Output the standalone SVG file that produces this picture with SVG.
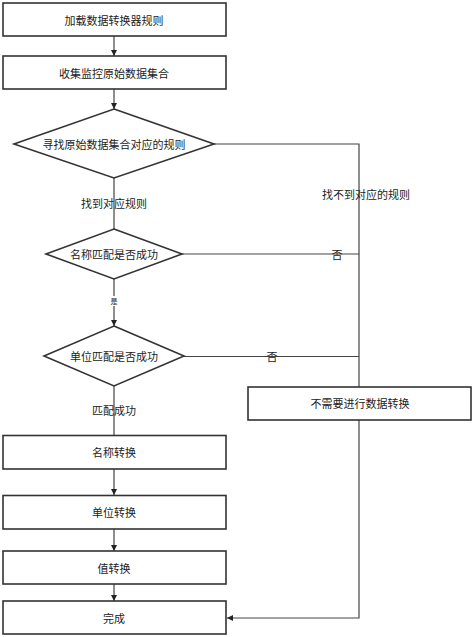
<svg xmlns="http://www.w3.org/2000/svg" width="474" height="637" viewBox="0 0 474 637">
<style>
.n{fill:#fff;stroke:#333;stroke-width:1.6}
.c{fill:none;stroke:#444;stroke-width:1.2}
.t{font-family:"Noto Sans CJK SC","Noto Sans",sans-serif;font-size:11px;fill:#222;text-anchor:middle;dominant-baseline:central}
.s{font-size:7px}
</style>
<defs>
<marker id="a" viewBox="0 0 8 8" refX="8" refY="4" markerWidth="6" markerHeight="6" orient="auto" markerUnits="userSpaceOnUse">
<path d="M0,0 L8,4 L0,8 z" fill="#222"/>
</marker>
</defs>
<rect width="474" height="637" fill="#fff"/>
<g id="connectors">
<line class="c" x1="114" y1="36" x2="114" y2="56" marker-end="url(#a)"/>
<line class="c" x1="114" y1="89" x2="114" y2="109" marker-end="url(#a)"/>
<line class="c" x1="114" y1="178" x2="114" y2="229"/>
<line class="c" x1="114" y1="279" x2="114" y2="326" marker-end="url(#a)"/>
<line class="c" x1="114" y1="386" x2="114" y2="435"/>
<line class="c" x1="114" y1="469" x2="114" y2="495" marker-end="url(#a)"/>
<line class="c" x1="114" y1="529" x2="114" y2="551" marker-end="url(#a)"/>
<line class="c" x1="114" y1="584" x2="114" y2="601" marker-end="url(#a)"/>
<polyline class="c" points="214,144 359,144 359,618 227,618" marker-end="url(#a)"/>
<line class="c" x1="182" y1="254" x2="359" y2="254"/>
<line class="c" x1="184" y1="356.5" x2="359" y2="356.5"/>
<text class="t" x="114" y="203">找到对应规则</text>
<text class="t" x="366" y="194">找不到对应的规则</text>
<text class="t" x="337" y="254">否</text>
<rect x="110" y="296" width="8" height="10" fill="#fff"/>
<text class="t s" x="114" y="301">是</text>
<text class="t" x="272" y="356">否</text>
<text class="t" x="114" y="410">匹配成功</text>
</g>
<g id="n1"><rect class="n" x="3" y="3" width="223" height="33"/><text class="t" x="114" y="19.5">加载数据转换器规则</text></g>
<g id="n2"><rect class="n" x="3" y="56" width="223" height="33"/><text class="t" x="114" y="72.5">收集监控原始数据集合</text></g>
<g id="d1"><polygon class="n" points="114,109 214,144 114,178 14,144"/><text class="t" x="114" y="144">寻找原始数据集合对应的规则</text></g>
<g id="d2"><polygon class="n" points="114,229 182,254 114,279 46,254"/><text class="t" x="114" y="254">名称匹配是否成功</text></g>
<g id="d3"><polygon class="n" points="114,326 184,356 114,386 44,356"/><text class="t" x="114" y="356">单位匹配是否成功</text></g>
<g id="n3"><rect class="n" x="248" y="387" width="223" height="33"/><text class="t" x="360" y="403">不需要进行数据转换</text></g>
<g id="n4"><rect class="n" x="3" y="435.5" width="223" height="33.5"/><text class="t" x="114" y="452">名称转换</text></g>
<g id="n5"><rect class="n" x="3" y="495.5" width="223" height="33.5"/><text class="t" x="114" y="512">单位转换</text></g>
<g id="n6"><rect class="n" x="3" y="551" width="223" height="33"/><text class="t" x="114" y="567.5">值转换</text></g>
<g id="n7"><rect class="n" x="3" y="601" width="223" height="33"/><text class="t" x="114" y="617.5">完成</text></g>
</svg>
